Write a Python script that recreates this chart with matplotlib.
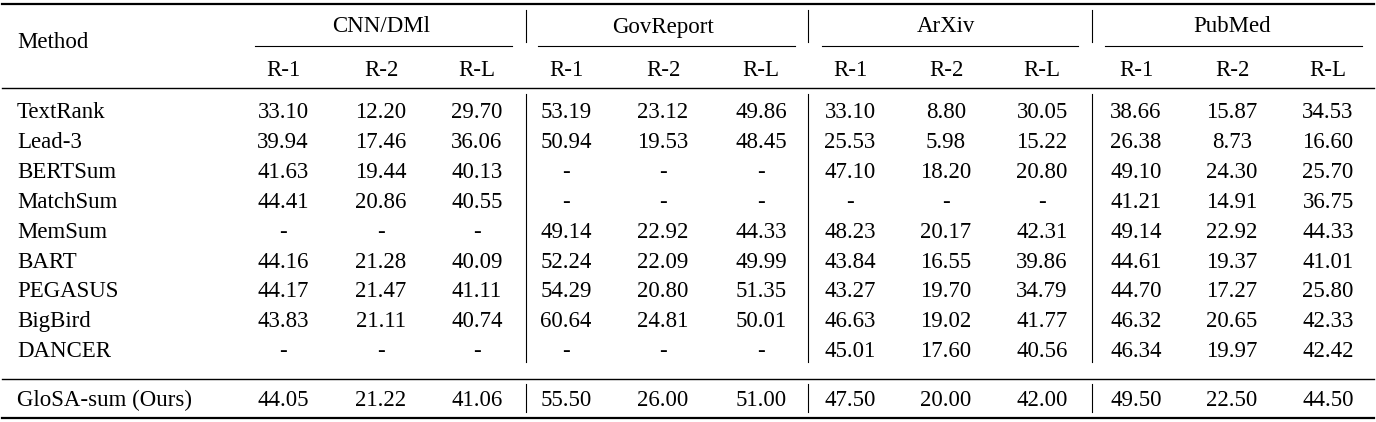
import matplotlib
matplotlib.use("Agg")
import matplotlib.pyplot as plt

methods = ["TextRank","Lead-3","BERTSum","MatchSum","MemSum","BART","PEGASUS","BigBird","DANCER"]
groups = ["CNN/DMl","GovReport","ArXiv","PubMed"]
subs = ["R-1","R-2","R-L"]
cnn = [["33.10","12.20","29.70"],["39.94","17.46","36.06"],["41.63","19.44","40.13"],["44.41","20.86","40.55"],["-","-","-"],["44.16","21.28","40.09"],["44.17","21.47","41.11"],["43.83","21.11","40.74"],["-","-","-"]]
gov = [["53.19","23.12","49.86"],["50.94","19.53","48.45"],["-","-","-"],["-","-","-"],["49.14","22.92","44.33"],["52.24","22.09","49.99"],["54.29","20.80","51.35"],["60.64","24.81","50.01"],["-","-","-"]]
arxiv = [["33.10","8.80","30.05"],["25.53","5.98","15.22"],["47.10","18.20","20.80"],["-","-","-"],["48.23","20.17","42.31"],["43.84","16.55","39.86"],["43.27","19.70","34.79"],["46.63","19.02","41.77"],["45.01","17.60","40.56"]]
pubmed = [["38.66","15.87","34.53"],["26.38","8.73","16.60"],["49.10","24.30","25.70"],["41.21","14.91","36.75"],["49.14","22.92","44.33"],["44.61","19.37","41.01"],["44.70","17.27","25.80"],["46.32","20.65","42.33"],["46.34","19.97","42.42"]]
ours_name = "GloSA-sum (Ours)"
ours = [["44.05","21.22","41.06"],["55.50","26.00","51.00"],["47.50","20.00","42.00"],["49.50","22.50","44.50"]]

W, H = 1376, 422
fig = plt.figure(figsize=(W/100, H/100), dpi=100)
ax = fig.add_axes([0, 0, 1, 1])
ax.set_xlim(0, W); ax.set_ylim(H, 0); ax.axis("off")
fp = dict(family="Liberation Serif", fontsize=16.5, color="black")
dy = 3

colx = [[283,381,477],[566,663,761],[850,946,1042],[1136,1232,1328]]
gcx = [381,663,946,1232]
cmid = [(255,512),(538,795),(822,1078),(1105,1362)]
seps = [526,808,1092]

ax.plot([2,1374],[4,4],color="black",lw=1.6)
ax.plot([2,1374],[88,88],color="black",lw=1.0)
ax.plot([2,1374],[379,379],color="black",lw=1.0)
ax.plot([2,1374],[418,418],color="black",lw=1.6)
for a,b in cmid:
    ax.plot([a,b],[46,46],color="black",lw=0.8)
for s in seps:
    for y0,y1 in [(10,42),(94,362),(384,412)]:
        ax.plot([s,s],[y0,y1],color="black",lw=0.8)

ax.text(17,40+dy,"Method",ha="left",va="center",**fp)
for g,cx in zip(groups,gcx):
    ax.text(cx,24+dy,g,ha="center",va="center",**fp)
for cols in colx:
    for s,x in zip(subs,cols):
        ax.text(x,68+dy,s,ha="center",va="center",**fp)

data = [cnn,gov,arxiv,pubmed]
for i,m in enumerate(methods):
    y = 110 + i*29.8 + dy
    ax.text(17,y,m,ha="left",va="center",**fp)
    for gi,cols in enumerate(colx):
        for v,x in zip(data[gi][i],cols):
            ax.text(x,y,v,ha="center",va="center",**fp)
y = 397 + dy
ax.text(17,y,ours_name,ha="left",va="center",**fp)
for gi,cols in enumerate(colx):
    for v,x in zip(ours[gi],cols):
        ax.text(x,y,v,ha="center",va="center",**fp)

fig.savefig("out.png",dpi=100)
